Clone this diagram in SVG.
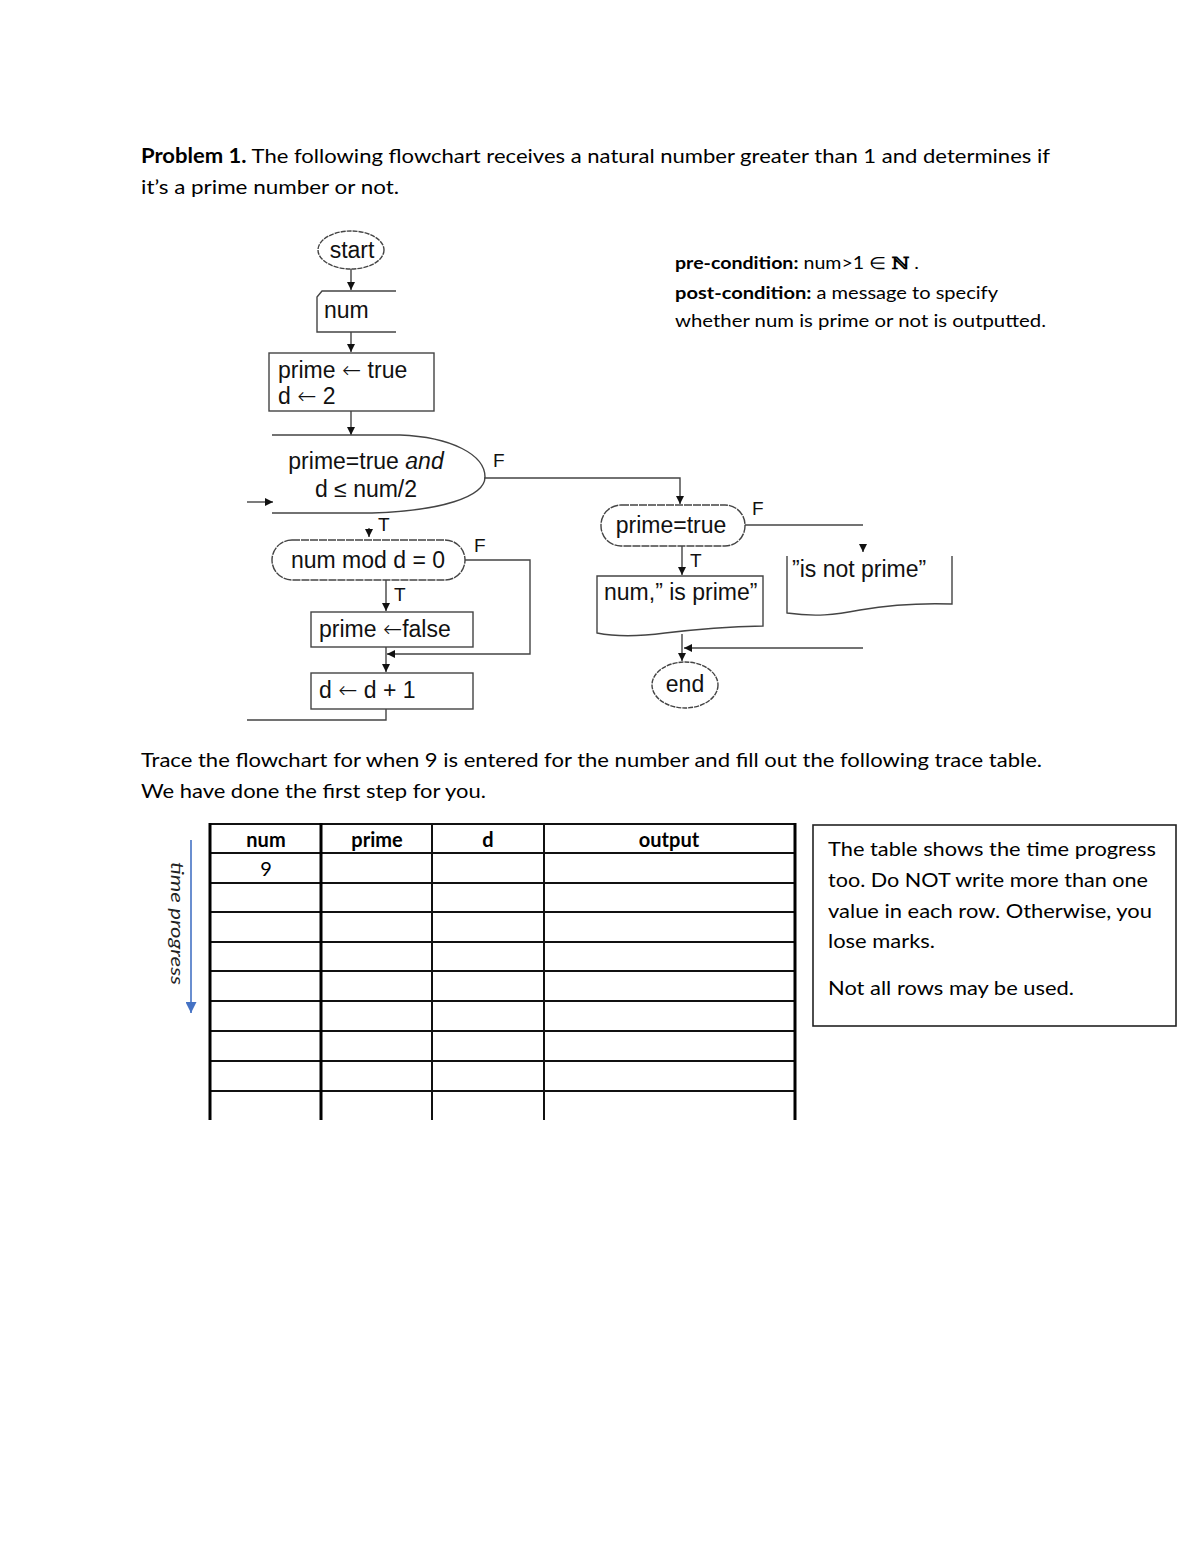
<svg xmlns="http://www.w3.org/2000/svg" width="1200" height="1553" viewBox="0 0 1200 1553">
<style>
.doc{font-family:Lato,"Open Sans","Liberation Sans",sans-serif;font-size:20px;fill:#000}
.b{font-weight:bold}
.fc{font-family:"Liberation Sans",Arial,sans-serif;font-size:23px;fill:#111}
.arr{font-family:"DejaVu Sans",sans-serif;font-weight:200}
.lbl{font-family:"Liberation Sans",Arial,sans-serif;font-size:19px;fill:#111}
.cond{font-family:Lato,"Open Sans",sans-serif;font-size:17px;fill:#000}
.sh{fill:#fff;stroke:#444;stroke-width:1.4}
.ln{fill:none;stroke:#444;stroke-width:1.4}
.tb{stroke:#111;stroke-width:2;fill:none}
.tbk{stroke:#000;stroke-width:3;fill:none}
.th{font-family:Lato,"Open Sans",sans-serif;font-size:20px;font-weight:bold;text-anchor:middle}
</style>
<defs>
<marker id="ah" viewBox="0 0 10 10" refX="10" refY="5" markerWidth="8" markerHeight="8" markerUnits="userSpaceOnUse" orient="auto"><path d="M0,0 L10,5 L0,10 Z" fill="#111"/></marker>
<marker id="ab" viewBox="0 0 10 10" refX="10" refY="5" markerWidth="11" markerHeight="11" markerUnits="userSpaceOnUse" orient="auto"><path d="M0,0 L10,5 L0,10 Z" fill="#4472c4"/></marker>
</defs>
<rect width="1200" height="1553" fill="#fff"/>

<g id="heading">
<text class="doc" x="141" y="163" textLength="909" lengthAdjust="spacingAndGlyphs"><tspan class="b">Problem 1.</tspan> The following flowchart receives a natural number greater than 1 and determines if</text>
<text class="doc" x="141" y="194" textLength="258" lengthAdjust="spacingAndGlyphs">it’s a prime number or not.</text>
</g>

<g id="conditions">
<text class="cond" x="675" y="269" textLength="244" lengthAdjust="spacingAndGlyphs"><tspan class="b">pre-condition:</tspan> num&gt;1 ∈ <tspan font-family="'DejaVu Serif',serif" font-weight="bold">ℕ</tspan> .</text>
<text class="cond" x="675" y="299" textLength="323" lengthAdjust="spacingAndGlyphs"><tspan class="b">post-condition:</tspan> a message to specify</text>
<text class="cond" x="675" y="327" textLength="371" lengthAdjust="spacingAndGlyphs">whether num is prime or not is outputted.</text>
</g>

<g id="connectors">
<line class="ln" x1="351" y1="269" x2="351" y2="290" marker-end="url(#ah)"/>
<line class="ln" x1="351" y1="332" x2="351" y2="352" marker-end="url(#ah)"/>
<line class="ln" x1="351" y1="411" x2="351" y2="435" marker-end="url(#ah)"/>
<line class="ln" x1="247" y1="502" x2="273" y2="502" marker-end="url(#ah)"/>
<polyline class="ln" points="484,478 680,478 680,504" marker-end="url(#ah)"/>
<line class="ln" x1="369" y1="528" x2="369" y2="537" marker-end="url(#ah)"/>
<line class="ln" x1="386" y1="580" x2="386" y2="611" marker-end="url(#ah)"/>
<polyline class="ln" points="465,560 530,560 530,654 387,654" marker-end="url(#ah)"/>
<line class="ln" x1="386" y1="647" x2="386" y2="672" marker-end="url(#ah)"/>
<polyline class="ln" points="386,709 386,720 247,720"/>
<line class="ln" x1="745" y1="525" x2="863" y2="525"/>
<line class="ln" x1="863" y1="544" x2="863" y2="552" marker-end="url(#ah)"/>
<line class="ln" x1="682" y1="546" x2="682" y2="575" marker-end="url(#ah)"/>
<line class="ln" x1="682" y1="634" x2="682" y2="661" marker-end="url(#ah)"/>
<line class="ln" x1="863" y1="648" x2="684" y2="648" marker-end="url(#ah)"/>
<text class="lbl" x="493" y="467">F</text>
<text class="lbl" x="378" y="531">T</text>
<text class="lbl" x="474" y="552">F</text>
<text class="lbl" x="394" y="601">T</text>
<text class="lbl" x="752" y="515">F</text>
<text class="lbl" x="690" y="567">T</text>
</g>

<g id="start">
<ellipse class="sh" cx="351" cy="250" rx="33" ry="19" stroke-dasharray="5 1"/>
<text class="fc" x="352" y="258" text-anchor="middle">start</text>
</g>
<g id="input-num">
<path class="ln" d="M396,291 L322,291 L317,297 L317,332 L396,332"/>
<text class="fc" x="324" y="318">num</text>
</g>
<g id="init">
<rect class="sh" x="269" y="353" width="165" height="58"/>
<text class="fc" x="278" y="378">prime <tspan class="arr">←</tspan> true</text>
<text class="fc" x="278" y="404">d <tspan class="arr">←</tspan> 2</text>
</g>
<g id="loop-cond">
<path class="ln" d="M272,435 L400,435 C452,437 485,455 485,477 C485,497 440,511 372,513 L272,513"/>
<text class="fc" x="366" y="469" text-anchor="middle">prime=true <tspan font-style="italic">and</tspan></text>
<text class="fc" x="366" y="497" text-anchor="middle">d ≤ num/2</text>
</g>
<g id="mod-cond">
<rect class="sh" x="272" y="540" width="193" height="40" rx="20" ry="20" stroke-dasharray="8 1"/>
<text class="fc" x="368" y="568" text-anchor="middle">num mod d = 0</text>
</g>
<g id="set-false">
<rect class="sh" x="311" y="612" width="162" height="35"/>
<text class="fc" x="319" y="637">prime <tspan class="arr">←</tspan>false</text>
</g>
<g id="inc-d">
<rect class="sh" x="311" y="673" width="162" height="36"/>
<text class="fc" x="319" y="698">d <tspan class="arr">←</tspan> d + 1</text>
</g>
<g id="prime-cond">
<rect class="sh" x="601" y="505" width="144" height="41" rx="20" ry="20" stroke-dasharray="8 1"/>
<text class="fc" x="671" y="533" text-anchor="middle">prime=true</text>
</g>
<g id="out-prime">
<path class="sh" d="M597,576 L763,576 L763,626 C720,627 690,630 665,633 C635,637 612,636 597,633 Z"/>
<text class="fc" x="604" y="600">num,” is prime”</text>
</g>
<g id="out-not-prime">
<path class="ln" d="M787,556 L787,613 C815,617 835,615 860,610 C895,604 925,603 952,604 L952,556"/>
<text class="fc" x="792" y="577">”is not prime”</text>
</g>
<g id="end">
<ellipse class="sh" cx="685" cy="685" rx="33" ry="23" stroke-dasharray="5 1"/>
<text class="fc" x="685" y="692" text-anchor="middle">end</text>
</g>

<g id="trace-text">
<text class="doc" x="141" y="767" textLength="901" lengthAdjust="spacingAndGlyphs">Trace the flowchart for when 9 is entered for the number and fill out the following trace table.</text>
<text class="doc" x="141" y="798" textLength="345" lengthAdjust="spacingAndGlyphs">We have done the first step for you.</text>
</g>

<g id="time-progress">
<line x1="191" y1="840" x2="191" y2="1013" stroke="#4472c4" stroke-width="1.6" marker-end="url(#ab)"/>
<text transform="translate(171,862) rotate(90)" font-family="Lato,'Open Sans',sans-serif" font-size="17" font-style="italic" fill="#222" textLength="123" lengthAdjust="spacingAndGlyphs">time progress</text>
</g>

<g id="table">
<line class="tb" x1="209" y1="824" x2="796" y2="824"/>
<line class="tb" x1="210" y1="853" x2="795" y2="853"/>
<line class="tb" x1="210" y1="883" x2="795" y2="883"/>
<line class="tb" x1="210" y1="912" x2="795" y2="912"/>
<line class="tb" x1="210" y1="942" x2="795" y2="942"/>
<line class="tb" x1="210" y1="971" x2="795" y2="971"/>
<line class="tb" x1="210" y1="1001" x2="795" y2="1001"/>
<line class="tb" x1="210" y1="1031" x2="795" y2="1031"/>
<line class="tb" x1="210" y1="1061" x2="795" y2="1061"/>
<line class="tb" x1="210" y1="1091" x2="795" y2="1091"/>
<line class="tbk" x1="210" y1="823" x2="210" y2="1120"/>
<line class="tbk" x1="321" y1="823" x2="321" y2="1120"/>
<line class="tb" x1="432" y1="823" x2="432" y2="1120"/>
<line class="tb" x1="544" y1="823" x2="544" y2="1120"/>
<line class="tbk" x1="795" y1="823" x2="795" y2="1120"/>
<text class="th" x="266" y="847">num</text>
<text class="th" x="377" y="847">prime</text>
<text class="th" x="488" y="847">d</text>
<text class="th" x="669" y="847">output</text>
<text class="doc" x="266" y="876" text-anchor="middle">9</text>
</g>

<g id="note">
<rect x="813" y="825" width="363" height="201" fill="#fff" stroke="#222" stroke-width="1.6"/>
<text class="doc" x="828" y="856" textLength="328" lengthAdjust="spacingAndGlyphs">The table shows the time progress</text>
<text class="doc" x="828" y="887" textLength="320" lengthAdjust="spacingAndGlyphs">too. Do NOT write more than one</text>
<text class="doc" x="828" y="918" textLength="324" lengthAdjust="spacingAndGlyphs">value in each row. Otherwise, you</text>
<text class="doc" x="828" y="948" textLength="107" lengthAdjust="spacingAndGlyphs">lose marks.</text>
<text class="doc" x="828" y="995" textLength="246" lengthAdjust="spacingAndGlyphs">Not all rows may be used.</text>
</g>
</svg>
